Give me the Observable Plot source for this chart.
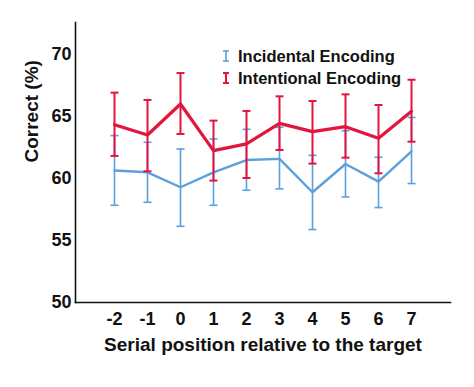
<!DOCTYPE html>
<html>
<head>
<meta charset="utf-8">
<script src="https://cdn.jsdelivr.net/npm/d3@7"></script>
<script src="https://cdn.jsdelivr.net/npm/@observablehq/plot@0.6"></script>
<style>
  html, body { margin: 0; padding: 0; background: #fff; }
  #wrap { position: relative; width: 474px; height: 387px; font-family: "Liberation Sans", Arial, sans-serif; }
  #legend { position: absolute; left: 222px; top: 45px; font-size: 16.5px; font-weight: bold; color: #111; line-height: 22px; }
  #legend .row { display: flex; align-items: center; white-space: nowrap; }
  #legend svg { margin-right: 8px; }
</style>
</head>
<body>
<div id="wrap"></div>
<script>
const positions = [-2, -1, 0, 1, 2, 3, 4, 5, 6, 7];
const incidentalMean = [60.65, 60.51, 59.3, 60.51, 61.5, 61.59, 58.9, 61.18, 59.76, 62.2];
const incidentalLow  = [57.85, 58.09, 56.15, 57.85, 59.06, 59.17, 55.89, 58.52, 57.66, 59.6];
const incidentalHigh = [63.47, 62.93, 62.39, 63.2, 63.98, 64.14, 61.88, 63.87, 61.72, 64.94];
const intentionalMean = [64.35, 63.52, 66.02, 62.26, 62.8, 64.46, 63.79, 64.19, 63.25, 65.43];
const intentionalLow  = [61.83, 60.59, 63.6, 59.84, 60.05, 62.31, 61.21, 61.69, 60.43, 62.98];
const intentionalHigh = [66.94, 66.35, 68.52, 64.68, 65.46, 66.64, 66.26, 66.8, 65.94, 67.98];
const yTicks = [50, 55, 60, 65, 70];
const yDomain = [50, 72.6];
const seriesNames = ["Incidental Encoding", "Intentional Encoding"];
const colors = ["#5b9fdc", "#e3143e"];
const xTitle = "Serial position relative to the target";
const yTitle = "Correct (%)";

const inc = positions.map((p, i) => ({pos: p, mean: incidentalMean[i], lo: incidentalLow[i], hi: incidentalHigh[i]}));
const int = positions.map((p, i) => ({pos: p, mean: intentionalMean[i], lo: intentionalLow[i], hi: intentionalHigh[i]}));

const font = "'Liberation Sans', Arial, sans-serif";

// horizontal cap symbol for error bars
const cap = {draw(ctx) { ctx.moveTo(-4, 0); ctx.lineTo(4, 0); }};

function errorMarks(data, color, barW, lineW) {
  return [
    Plot.ruleX(data, {x: "pos", y1: "lo", y2: "hi", stroke: color, strokeWidth: barW}),
    Plot.dot(data, {x: "pos", y: "lo", symbol: cap, fill: "none", stroke: color, strokeWidth: barW}),
    Plot.dot(data, {x: "pos", y: "hi", symbol: cap, fill: "none", stroke: color, strokeWidth: barW}),
    Plot.line(data, {x: "pos", y: "mean", stroke: color, strokeWidth: lineW})
  ];
}

const chart = Plot.plot({
  width: 474,
  height: 387,
  marginLeft: 75,
  marginRight: 24,
  marginTop: 22,
  marginBottom: 85,
  style: {fontFamily: font, background: "#fff", color: "#111"},
  x: {type: "point", domain: positions, padding: 1.07},
  y: {domain: yDomain},
  marks: [
    Plot.frame({anchor: "left", stroke: "#111", strokeWidth: 1.6}),
    Plot.frame({anchor: "bottom", stroke: "#111", strokeWidth: 1.6}),
    Plot.axisY({ticks: yTicks, tickSize: 0, tickPadding: 4, fontSize: 18, fontWeight: "bold", label: null}),
    Plot.axisX({tickSize: 0, tickPadding: 10, fontSize: 18, fontWeight: "bold", label: null, tickFormat: d => String(d)}),
    Plot.text([yTitle], {frameAnchor: "left", dx: -44, rotate: -90, fontSize: 19, fontWeight: "bold", fill: "#111"}),
    Plot.text([xTitle], {frameAnchor: "bottom", dy: 48, fontSize: 19, fontWeight: "bold", fill: "#111"}),
    ...errorMarks(inc, colors[0], 1.6, 2.4),
    ...errorMarks(int, colors[1], 2, 3.2)
  ]
});

const wrap = document.getElementById("wrap");
wrap.appendChild(chart);

const legend = document.createElement("div");
legend.id = "legend";
seriesNames.forEach((name, i) => {
  const row = document.createElement("div");
  row.className = "row";
  const w = i === 0 ? 1.6 : 2;
  row.innerHTML = `<svg width="8" height="12" viewBox="0 0 8 12"><line x1="4" y1="1" x2="4" y2="11" stroke="${colors[i]}" stroke-width="${w}"/><line x1="1" y1="1" x2="7" y2="1" stroke="${colors[i]}" stroke-width="${w}"/><line x1="1" y1="11" x2="7" y2="11" stroke="${colors[i]}" stroke-width="${w}"/></svg><span>${name}</span>`;
  legend.appendChild(row);
});
wrap.appendChild(legend);
</script>
</body>
</html>
